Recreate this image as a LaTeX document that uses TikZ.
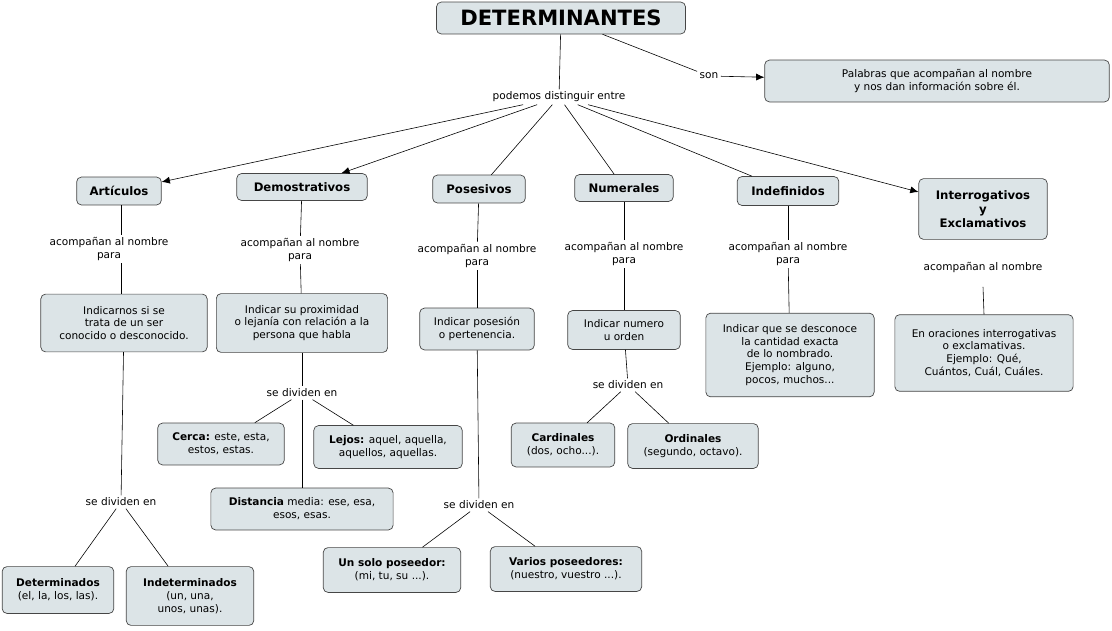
\documentclass[tikz,border=0pt]{standalone}
\usepackage{fontspec}
\setmainfont{DejaVu Sans}
\usetikzlibrary{arrows.meta}
\definecolor{boxfill}{RGB}{220,228,231}
\definecolor{boxline}{RGB}{70,70,70}
\tikzset{
  cbox/.style={draw=boxline, fill=boxfill, rounded corners=4pt, align=center, font=\fontsize{9}{11}\selectfont, inner sep=3pt, line width=0.6pt},
  lbl/.style={align=center, font=\fontsize{9}{11}\selectfont, inner sep=2pt, fill=white},
  conn/.style={draw=black, line width=0.5pt},
  arr/.style={conn, -{Latex[length=7pt,width=6pt]}}
}
\begin{document}
\begin{tikzpicture}[x=0.03cm,y=-0.03cm]
\useasboundingbox (0,0) rectangle (1112,630);
% top
\node[cbox, minimum width=250*0.85pt, minimum height=32*0.85pt, font=\fontsize{18}{21}\selectfont\bfseries] (det) at (561,18) {DETERMINANTES};
\node[lbl] (son) at (709,76) {son};
\node[cbox, minimum width=346*0.85pt, minimum height=42*0.85pt] (pal) at (937,81) {Palabras que acompañan al nombre\\y nos dan información sobre él.};
\node[lbl] (pod) at (559,97) {podemos distinguir entre};
% categories
\node[cbox, font=\fontsize{10}{12}\selectfont\bfseries, minimum width=85*0.85pt, minimum height=28*0.85pt] (art) at (119,191) {Artículos};
\node[cbox, font=\fontsize{10}{12}\selectfont\bfseries, minimum width=131*0.85pt, minimum height=27*0.85pt] (dem) at (302,187) {Demostrativos};
\node[cbox, font=\fontsize{10}{12}\selectfont\bfseries, minimum width=93*0.85pt, minimum height=28*0.85pt] (pos) at (479,189) {Posesivos};
\node[cbox, font=\fontsize{10}{12}\selectfont\bfseries, minimum width=99*0.85pt, minimum height=27*0.85pt] (num) at (624,188) {Numerales};
\node[cbox, font=\fontsize{10}{12}\selectfont\bfseries, minimum width=102*0.85pt, minimum height=29*0.85pt] (ind) at (788,191) {Indefinidos};
\node[cbox, font=\fontsize{10}{12}\selectfont\bfseries, minimum width=129*0.85pt, minimum height=61*0.85pt] (int) at (983,209) {Interrogativos\\y\\Exclamativos};
\draw[conn] (det) -- (son);
\draw[arr] (son) -- (pal);
\draw[conn] (det) -- (pod);
\draw[arr] (pod) -- (art);
\draw[arr] (pod) -- (dem);
\draw[conn] (pod) -- (pos);
\draw[conn] (pod) -- (num);
\draw[conn] (pod) -- (ind);
\draw[arr] (pod) -- (int);
% Articulos
\node[lbl] (artl) at (109,249) {acompañan al nombre\\para};
\node[cbox, minimum width=167*0.85pt, minimum height=58*0.85pt] (artb) at (124,323) {Indicarnos si se\\trata de un ser\\conocido o desconocido.};
\node[lbl] (arts) at (121,502) {se dividen en};
\node[cbox, minimum width=112*0.85pt, minimum height=47*0.85pt] (detm) at (58,590) {\textbf{Determinados}\\(el, la, los, las).};
\node[cbox, minimum width=128*0.85pt, minimum height=59*0.85pt] (indm) at (190,596) {\textbf{Indeterminados}\\(un, una,\\unos, unas).};
\draw[conn] (art.south -| 121,0) -- (121,235);
\draw[conn] (121,263) -- (artb.north -| 121,0);
\draw[conn] (artb) -- (arts);
\draw[conn] (arts) -- (detm);
\draw[conn] (arts) -- (indm);
% Demostrativos
\node[lbl] (deml) at (300,250) {acompañan al nombre\\para};
\node[cbox, minimum width=172*0.85pt, minimum height=59*0.85pt] (demb) at (302,323) {Indicar su proximidad\\o lejanía con relación a la\\persona que habla};
\node[lbl] (dems) at (302,393) {se dividen en};
\node[cbox, minimum width=127*0.85pt, minimum height=42*0.85pt] (cer) at (221,444) {\textbf{Cerca:} este, esta,\\estos, estas.};
\node[cbox, minimum width=149*0.85pt, minimum height=43*0.85pt] (lej) at (388,447) {\textbf{Lejos:} aquel, aquella,\\aquellos, aquellas.};
\node[cbox, minimum width=183*0.85pt, minimum height=42*0.85pt] (dis) at (302,509) {\textbf{Distancia} media: ese, esa,\\esos, esas.};
\draw[conn] (dem) -- (deml);
\draw[conn] (deml) -- (demb);
\draw[conn] (demb) -- (dems);
\draw[conn] (dems) -- (cer);
\draw[conn] (dems) -- (lej);
\draw[conn] (dems) -- (dis);
% Posesivos
\node[lbl] (posl) at (477,256) {acompañan al nombre\\para};
\node[cbox, minimum width=115*0.85pt, minimum height=42*0.85pt] (posb) at (477,329) {Indicar posesión\\o pertenencia.};
\node[lbl] (poss) at (479,505) {se dividen en};
\node[cbox, minimum width=138*0.85pt, minimum height=45*0.85pt] (uno) at (392,570) {\textbf{Un solo poseedor:}\\(mi, tu, su ...).};
\node[cbox, minimum width=152*0.85pt, minimum height=45*0.85pt] (var) at (566,569) {\textbf{Varios poseedores:}\\(nuestro, vuestro ...).};
\draw[conn] (pos) -- (posl);
\draw[conn] (posl) -- (posb);
\draw[conn] (posb) -- (poss);
\draw[conn] (poss) -- (uno);
\draw[conn] (poss) -- (var);
% Numerales
\node[lbl] (numl) at (624,254) {acompañan al nombre\\para};
\node[cbox, minimum width=113*0.85pt, minimum height=39*0.85pt] (numb) at (624,330) {Indicar numero\\u orden};
\node[lbl] (nums) at (628,385) {se dividen en};
\node[cbox, minimum width=104*0.85pt, minimum height=44*0.85pt] (car) at (563,445) {\textbf{Cardinales}\\(dos, ocho...).};
\node[cbox, minimum width=131*0.85pt, minimum height=45*0.85pt] (ord) at (693,446) {\textbf{Ordinales}\\(segundo, octavo).};
\draw[conn] (num) -- (numl);
\draw[conn] (numl) -- (numb);
\draw[conn] (numb) -- (nums);
\draw[conn] (nums) -- (car);
\draw[conn] (nums) -- (ord);
% Indefinidos
\node[lbl] (indl) at (788,254) {acompañan al nombre\\para};
\node[cbox, minimum width=169*0.85pt, minimum height=84*0.85pt] (indb) at (790,355) {Indicar que se desconoce\\la cantidad exacta\\de lo nombrado.\\Ejemplo: alguno,\\pocos, muchos...};
\draw[conn] (ind) -- (indl);
\draw[conn] (indl) -- (indb);
% Interrogativos
\node[lbl] (intl) at (983,267) {acompañan al nombre};
\node[cbox, minimum width=179*0.85pt, minimum height=77*0.85pt] (intb) at (984,353) {En oraciones interrogativas\\o exclamativas.\\Ejemplo: Qué,\\Cuántos, Cuál, Cuáles.};
\draw[conn] (intl.south) ++(0,12) -- (intb.north);
\end{tikzpicture}
\end{document}
